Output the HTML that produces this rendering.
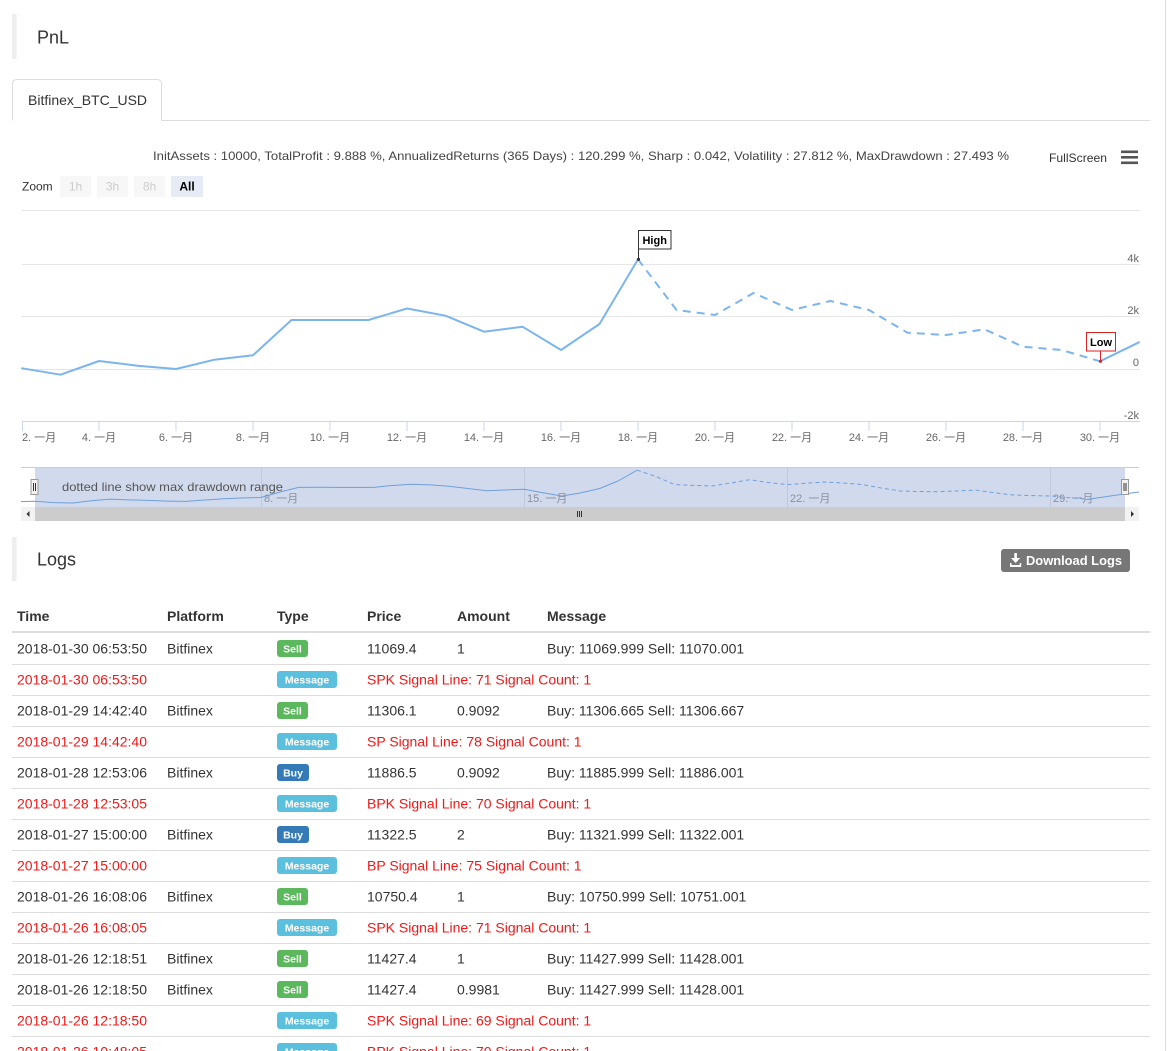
<!DOCTYPE html>
<html><head><meta charset="utf-8"><style>
html,body{margin:0;padding:0;background:#fff;}
body{width:1170px;height:1051px;overflow:hidden;position:relative;}
svg{position:absolute;left:0;top:0;}
</style></head><body>
<svg width="1170" height="1051" xmlns="http://www.w3.org/2000/svg" font-family="Liberation Sans, Arial, 'Noto Sans CJK SC', sans-serif">
<!-- right border -->
<line x1="1165.5" y1="0" x2="1165.5" y2="1051" stroke="#ddd"/>
<!-- PnL header -->
<rect x="12" y="14" width="4.5" height="45" fill="#eee"/>
<text x="37" y="43.5" font-size="18" fill="#333">PnL</text>
<!-- tab -->
<path d="M12.5,120.5 L12.5,84 Q12.5,79.5 17,79.5 L157,79.5 Q161.5,79.5 161.5,84 L161.5,120.5" fill="#fff" stroke="#ddd"/>
<line x1="161.5" y1="120.5" x2="1150" y2="120.5" stroke="#ddd"/>
<text x="28" y="105" font-size="14" fill="#333">Bitfinex_BTC_USD</text>
<!-- stats -->
<text x="153" y="160" font-size="12" fill="#444" textLength="856" lengthAdjust="spacingAndGlyphs">InitAssets : 10000, TotalProfit : 9.888 %, AnnualizedReturns (365 Days) : 120.299 %, Sharp : 0.042, Volatility : 27.812 %, MaxDrawdown : 27.493 %</text>
<text x="1049" y="162" font-size="12" fill="#333" textLength="58" lengthAdjust="spacingAndGlyphs">FullScreen</text>
<rect x="1121" y="150.5" width="17" height="2.6" fill="#555"/>
<rect x="1121" y="156" width="17" height="2.6" fill="#555"/>
<rect x="1121" y="161.5" width="17" height="2.6" fill="#555"/>
<!-- zoom -->
<text x="22" y="190.5" font-size="12" fill="#333">Zoom</text>
<rect x="60" y="176" width="31" height="21" fill="#f7f7f7"/>
<rect x="97" y="176" width="31" height="21" fill="#f7f7f7"/>
<rect x="134" y="176" width="31" height="21" fill="#f7f7f7"/>
<rect x="171" y="176" width="32" height="21" fill="#e6ebf5"/>
<text x="75.5" y="190.5" font-size="12" fill="#ccc" text-anchor="middle">1h</text>
<text x="112.5" y="190.5" font-size="12" fill="#ccc" text-anchor="middle">3h</text>
<text x="149.5" y="190.5" font-size="12" fill="#ccc" text-anchor="middle">8h</text>
<text x="187" y="190.5" font-size="12" fill="#000" font-weight="bold" text-anchor="middle">All</text>
<!-- grid -->
<g stroke="#e6e6e6" stroke-width="1">
<line x1="22" y1="210.5" x2="1140" y2="210.5"/>
<line x1="22" y1="264.5" x2="1140" y2="264.5"/>
<line x1="22" y1="316.5" x2="1140" y2="316.5"/>
<line x1="22" y1="369.5" x2="1140" y2="369.5"/>
</g>
<line x1="22" y1="421.5" x2="1140" y2="421.5" stroke="#ccd6eb"/>
<g stroke="#ccd6eb">
<line x1="22.5" y1="421" x2="22.5" y2="431"/><line x1="99" y1="421" x2="99" y2="431"/><line x1="176" y1="421" x2="176" y2="431"/><line x1="253" y1="421" x2="253" y2="431"/><line x1="330" y1="421" x2="330" y2="431"/><line x1="407" y1="421" x2="407" y2="431"/><line x1="484" y1="421" x2="484" y2="431"/><line x1="561" y1="421" x2="561" y2="431"/><line x1="638" y1="421" x2="638" y2="431"/><line x1="715" y1="421" x2="715" y2="431"/><line x1="792" y1="421" x2="792" y2="431"/><line x1="869" y1="421" x2="869" y2="431"/><line x1="946" y1="421" x2="946" y2="431"/><line x1="1023" y1="421" x2="1023" y2="431"/><line x1="1100" y1="421" x2="1100" y2="431"/>
</g>
<g font-size="11" fill="#666" font-family="Liberation Sans, 'Noto Sans CJK SC', sans-serif" text-anchor="middle">
<text x="22" y="441" text-anchor="start">2. 一月</text>
<text x="99" y="441">4. 一月</text><text x="176" y="441">6. 一月</text><text x="253" y="441">8. 一月</text><text x="330" y="441">10. 一月</text><text x="407" y="441">12. 一月</text><text x="484" y="441">14. 一月</text><text x="561" y="441">16. 一月</text><text x="638" y="441">18. 一月</text><text x="715" y="441">20. 一月</text><text x="792" y="441">22. 一月</text><text x="869" y="441">24. 一月</text><text x="946" y="441">26. 一月</text><text x="1023" y="441">28. 一月</text><text x="1100" y="441">30. 一月</text>
</g>
<g font-size="11" fill="#666" text-anchor="end">
<text x="1139" y="262">4k</text><text x="1139" y="314">2k</text><text x="1139" y="366">0</text><text x="1139" y="419">-2k</text>
</g>
<!-- series -->
<g fill="none" stroke="#7cb5ec" stroke-width="2" stroke-linejoin="round" stroke-linecap="round">
<polyline points="22,368.3 60.5,374.7 99,361 137.5,365.7 176,369 214.5,359.7 253,355.3 291.5,320 330,320 368.5,320 407,308.5 445.5,315.7 484,331.7 522.5,326.7 561,350 599.5,324 638,259.3"/>
<polyline stroke-dasharray="8,6" stroke-linecap="butt" points="638,259.3 676.5,310 715,315 753.5,293 792,310 830.5,301 869,310 907.5,332.7 946,335 984.5,329.3 1023,346.7 1061.5,350 1100,361.3"/>
<polyline points="1100,361.3 1139,342.3"/>
</g>
<!-- flags -->
<line x1="638.5" y1="249" x2="638.5" y2="259" stroke="#333"/>
<circle cx="638.5" cy="259.3" r="1.6" fill="#333"/>
<rect x="638.5" y="230.5" width="32.5" height="18.5" fill="#fff" stroke="#333"/>
<text x="654.7" y="244" font-size="11" font-weight="bold" fill="#000" text-anchor="middle">High</text>
<line x1="1100.5" y1="351" x2="1100.5" y2="361" stroke="#d22"/>
<circle cx="1100.5" cy="361.3" r="1.6" fill="#d22"/>
<rect x="1086.5" y="332.5" width="29" height="18.5" fill="#fff" stroke="#d22"/>
<text x="1101" y="346" font-size="11" font-weight="bold" fill="#000" text-anchor="middle">Low</text>
<!-- navigator -->
<line x1="21" y1="467.5" x2="1139" y2="467.5" stroke="#ccc"/>
<rect x="35" y="468" width="1090" height="39" fill="#d1daed"/>
<g stroke="#c0c9db"><line x1="261.5" y1="468" x2="261.5" y2="507"/><line x1="524.5" y1="468" x2="524.5" y2="507"/><line x1="787.5" y1="468" x2="787.5" y2="507"/><line x1="1050.5" y1="468" x2="1050.5" y2="507"/></g>
<g font-size="11" fill="#8a8f99" font-family="Liberation Sans, 'Noto Sans CJK SC', sans-serif">
<text x="264" y="502">8. 一月</text><text x="527" y="502">15. 一月</text><text x="790" y="502">22. 一月</text><text x="1053" y="502">29. 一月</text>
</g>
<g fill="none" stroke="#6e9fdc" stroke-width="1" stroke-linejoin="round">
<polyline points="21,501.6 35.4,501.2 54,502.6 73,503 92,500.6 110.6,499.1 129,499.9 148.2,500.4 167,501.1 185.8,501.4 205,500 223.4,498.7 242,498 261,497.5 280,492 298.6,487.4 317,487.3 336.2,487.4 355,487.4 373.8,487.4 392,485.5 411.4,484.2 430,484.9 449,486.2 468,488.5 486.6,490.8 505,490 524.2,489.3 543,492.8 561.8,496 580,493 599.4,488.6 618,481 637,470.2"/>
<polyline stroke-dasharray="4,3" points="637,470.2 656,476.5 674.6,484.6 693,485.4 712.2,486 731,483 749.8,479.7 768,482.5 787.4,484.6 806,483.2 825,482 844,483.1 862.6,484.6 881,488 900.2,491 919,491.5 937.8,491.7 956,491 975.4,490.1 994,492.7 1013,495 1032,495.6 1050.6,496 1069,497.7 1088.2,499.2"/>
<polyline points="1088.2,499.2 1107,496.5 1125.8,493.8 1139,492"/>
</g>
<text x="62" y="491" font-size="12" fill="#555" textLength="221" lengthAdjust="spacingAndGlyphs">dotted line show max drawdown range</text>
<rect x="31" y="479.5" width="7" height="15" fill="#f2f2f2" stroke="#999"/>
<line x1="33.5" y1="483" x2="33.5" y2="491" stroke="#333"/><line x1="35.5" y1="483" x2="35.5" y2="491" stroke="#333"/>
<rect x="1121.5" y="479.5" width="7" height="15" fill="#f2f2f2" stroke="#999"/>
<line x1="1124" y1="483" x2="1124" y2="491" stroke="#333"/><line x1="1126" y1="483" x2="1126" y2="491" stroke="#333"/>
<!-- scrollbar -->
<rect x="21" y="507" width="14" height="14" fill="#f2f2f2"/>
<rect x="35" y="507" width="1090" height="14" fill="#cccccc"/>
<rect x="1125" y="507" width="14" height="14" fill="#f2f2f2"/>
<path d="M26.5,514 L29.5,511 L29.5,517 Z" fill="#333"/>
<path d="M1134,514 L1131,511 L1131,517 Z" fill="#333"/>
<g stroke="#333"><line x1="577.5" y1="511" x2="577.5" y2="517"/><line x1="579.5" y1="511" x2="579.5" y2="517"/><line x1="581.5" y1="511" x2="581.5" y2="517"/></g>
<!-- Logs header -->
<rect x="12" y="537" width="4.5" height="44" fill="#eee"/>
<text x="37" y="565.5" font-size="18" fill="#333">Logs</text>
<rect x="1001" y="549" width="129" height="23" rx="3" fill="#777"/>
<rect x="1014.3" y="553" width="2.6" height="6" fill="#fff"/>
<path d="M1011,558 L1020.2,558 L1015.6,563 Z" fill="#fff"/>
<path d="M1010,563 L1011.5,563 L1011.5,565 L1019.7,565 L1019.7,563 L1021.2,563 L1021.2,567 L1010,567 Z" fill="#fff"/>
<text x="1026" y="565" font-size="13" font-weight="bold" fill="#fff" textLength="96" lengthAdjust="spacingAndGlyphs">Download Logs</text>
<!-- table header -->
<g font-size="14" font-weight="bold" fill="#333">
<text x="17" y="621">Time</text><text x="167" y="621">Platform</text><text x="277" y="621">Type</text><text x="367" y="621">Price</text><text x="457" y="621">Amount</text><text x="547" y="621">Message</text>
</g>
<rect x="12" y="631" width="1138" height="2" fill="#ddd"/>
<g stroke="#ddd">
<line x1="12" y1="664.5" x2="1150" y2="664.5"/><line x1="12" y1="695.5" x2="1150" y2="695.5"/><line x1="12" y1="726.5" x2="1150" y2="726.5"/><line x1="12" y1="757.5" x2="1150" y2="757.5"/><line x1="12" y1="788.5" x2="1150" y2="788.5"/><line x1="12" y1="819.5" x2="1150" y2="819.5"/><line x1="12" y1="850.5" x2="1150" y2="850.5"/><line x1="12" y1="881.5" x2="1150" y2="881.5"/><line x1="12" y1="912.5" x2="1150" y2="912.5"/><line x1="12" y1="943.5" x2="1150" y2="943.5"/><line x1="12" y1="974.5" x2="1150" y2="974.5"/><line x1="12" y1="1005.5" x2="1150" y2="1005.5"/><line x1="12" y1="1036.5" x2="1150" y2="1036.5"/>
</g>
<!-- labels -->
<g>
<rect x="277" y="640" width="31" height="17" rx="3" fill="#5cb85c"/>
<rect x="277" y="671" width="60" height="17" rx="3" fill="#5bc0de"/>
<rect x="277" y="702" width="31" height="17" rx="3" fill="#5cb85c"/>
<rect x="277" y="733" width="60" height="17" rx="3" fill="#5bc0de"/>
<rect x="277" y="764" width="32" height="17" rx="3" fill="#337ab7"/>
<rect x="277" y="795" width="60" height="17" rx="3" fill="#5bc0de"/>
<rect x="277" y="826" width="32" height="17" rx="3" fill="#337ab7"/>
<rect x="277" y="857" width="60" height="17" rx="3" fill="#5bc0de"/>
<rect x="277" y="888" width="31" height="17" rx="3" fill="#5cb85c"/>
<rect x="277" y="919" width="60" height="17" rx="3" fill="#5bc0de"/>
<rect x="277" y="950" width="31" height="17" rx="3" fill="#5cb85c"/>
<rect x="277" y="981" width="31" height="17" rx="3" fill="#5cb85c"/>
<rect x="277" y="1012" width="60" height="17" rx="3" fill="#5bc0de"/>
<rect x="277" y="1043" width="60" height="17" rx="3" fill="#5bc0de"/>
</g>
<g font-size="10.5" font-weight="bold" fill="#fff" text-anchor="middle">
<text x="292.5" y="652.5">Sell</text>
<text x="307" y="683.5">Message</text>
<text x="292.5" y="714.5">Sell</text>
<text x="307" y="745.5">Message</text>
<text x="293" y="776.5">Buy</text>
<text x="307" y="807.5">Message</text>
<text x="293" y="838.5">Buy</text>
<text x="307" y="869.5">Message</text>
<text x="292.5" y="900.5">Sell</text>
<text x="307" y="931.5">Message</text>
<text x="292.5" y="962.5">Sell</text>
<text x="292.5" y="993.5">Sell</text>
<text x="307" y="1024.5">Message</text>
<text x="307" y="1055.5">Message</text>
</g>
<!-- normal rows -->
<g font-size="14" fill="#333">
<text x="17" y="653.5">2018-01-30 06:53:50</text><text x="167" y="653.5">Bitfinex</text><text x="367" y="653.5">11069.4</text><text x="457" y="653.5">1</text><text x="547" y="653.5">Buy: 11069.999 Sell: 11070.001</text>
<text x="17" y="715.5">2018-01-29 14:42:40</text><text x="167" y="715.5">Bitfinex</text><text x="367" y="715.5">11306.1</text><text x="457" y="715.5">0.9092</text><text x="547" y="715.5">Buy: 11306.665 Sell: 11306.667</text>
<text x="17" y="777.5">2018-01-28 12:53:06</text><text x="167" y="777.5">Bitfinex</text><text x="367" y="777.5">11886.5</text><text x="457" y="777.5">0.9092</text><text x="547" y="777.5">Buy: 11885.999 Sell: 11886.001</text>
<text x="17" y="839.5">2018-01-27 15:00:00</text><text x="167" y="839.5">Bitfinex</text><text x="367" y="839.5">11322.5</text><text x="457" y="839.5">2</text><text x="547" y="839.5">Buy: 11321.999 Sell: 11322.001</text>
<text x="17" y="901.5">2018-01-26 16:08:06</text><text x="167" y="901.5">Bitfinex</text><text x="367" y="901.5">10750.4</text><text x="457" y="901.5">1</text><text x="547" y="901.5">Buy: 10750.999 Sell: 10751.001</text>
<text x="17" y="963.5">2018-01-26 12:18:51</text><text x="167" y="963.5">Bitfinex</text><text x="367" y="963.5">11427.4</text><text x="457" y="963.5">1</text><text x="547" y="963.5">Buy: 11427.999 Sell: 11428.001</text>
<text x="17" y="994.5">2018-01-26 12:18:50</text><text x="167" y="994.5">Bitfinex</text><text x="367" y="994.5">11427.4</text><text x="457" y="994.5">0.9981</text><text x="547" y="994.5">Buy: 11427.999 Sell: 11428.001</text>
</g>
<!-- red rows -->
<g font-size="14" fill="#f01818">
<text x="17" y="684.5">2018-01-30 06:53:50</text><text x="367" y="684.5">SPK Signal Line: 71 Signal Count: 1</text>
<text x="17" y="746.5">2018-01-29 14:42:40</text><text x="367" y="746.5">SP Signal Line: 78 Signal Count: 1</text>
<text x="17" y="808.5">2018-01-28 12:53:05</text><text x="367" y="808.5">BPK Signal Line: 70 Signal Count: 1</text>
<text x="17" y="870.5">2018-01-27 15:00:00</text><text x="367" y="870.5">BP Signal Line: 75 Signal Count: 1</text>
<text x="17" y="932.5">2018-01-26 16:08:05</text><text x="367" y="932.5">SPK Signal Line: 71 Signal Count: 1</text>
<text x="17" y="1025.5">2018-01-26 12:18:50</text><text x="367" y="1025.5">SPK Signal Line: 69 Signal Count: 1</text>
<text x="17" y="1056.5">2018-01-26 10:48:05</text><text x="367" y="1056.5">BPK Signal Line: 70 Signal Count: 1</text>
</g>
</svg>
</body></html>
